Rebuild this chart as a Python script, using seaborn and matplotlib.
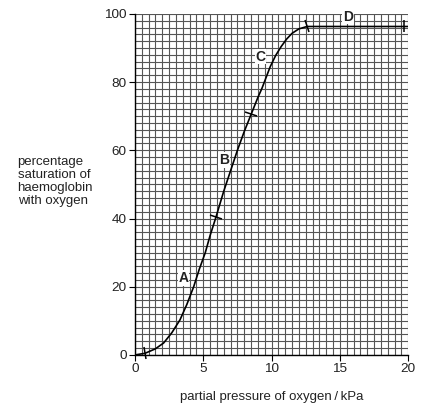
import numpy as np
import pandas as pd
import matplotlib
matplotlib.use("Agg")
import matplotlib.pyplot as plt
from matplotlib.markers import MarkerStyle
from matplotlib.transforms import Affine2D
from matplotlib.ticker import MultipleLocator
import seaborn as sns

# data
pressure = [0, 0.75, 1.5, 2.1, 2.7, 3.3, 3.8, 4.3, 4.7, 5.15, 5.5, 5.9, 6.5, 7.0,
            7.5, 8.0, 8.5, 9.0, 9.3, 9.9, 10.3, 10.7, 11.1, 11.5, 12.0, 12.6, 20]
saturation = [0, 0.5, 1.8, 3.5, 6.5, 10.3, 14.8, 20, 25, 30, 35, 40, 48, 54,
              60, 65.5, 70.5, 75.5, 78.2, 84.5, 87.8, 90.4, 92.6, 94.3, 95.6, 96.3, 96.3]
mark_x = [0.75, 5.9, 8.5, 12.6, 19.7]
mark_y = [0.5, 40.4, 70.5, 96.3, 96.3]
region_labels = ["A", "B", "C", "D"]
region_x = [3.55, 6.5, 9.2, 15.6]
region_y = [22.5, 57.2, 87.5, 99.2]
x_ticks = [0, 5, 10, 15, 20]
y_ticks = [0, 20, 40, 60, 80, 100]

sns.set_theme(style="ticks")
plt.rcParams["font.family"] = ["Liberation Sans", "DejaVu Sans"]

fig = plt.figure(figsize=(4.38, 4.08), dpi=100)
ax = fig.add_axes([0.308, 0.13, 0.624, 0.836])

df = pd.DataFrame({"p": pressure, "s": saturation})
sns.lineplot(data=df, x="p", y="s", sort=False, color="black", lw=1.2, ax=ax)

ax.set_xlim(0, 20)
ax.set_ylim(0, 100)
ax.xaxis.set_minor_locator(MultipleLocator(0.5))
ax.yaxis.set_minor_locator(MultipleLocator(2))
ax.set_xticks(x_ticks)
ax.set_yticks(y_ticks)
ax.grid(which="both", color="#555555", lw=0.8)
ax.set_axisbelow(True)
ax.tick_params(which="minor", length=0)
ax.tick_params(which="major", length=4, width=0.8, color="black",
               labelsize=9.7, labelcolor="#222222", pad=2)
for side in ["top", "right"]:
    ax.spines[side].set_visible(False)
for side in ["left", "bottom"]:
    ax.spines[side].set_color("black")
    ax.spines[side].set_linewidth(1.0)

ax.set_xlabel("partial pressure of oxygen\u2009/\u2009kPa", fontsize=9.5, color="#222222", labelpad=11)
ax.set_ylabel("")

fig.text(0.04, 0.555, "percentage\nsaturation of\nhaemoglobin\nwith oxygen",
         fontsize=9.5, color="#222222", ha="left", va="center", linespacing=1.12)

# perpendicular tick marks across the curve
fig.canvas.draw()
px = np.array(pressure)
py = np.array(saturation)
for mx, my in zip(mark_x, mark_y):
    i = np.searchsorted(px, mx)
    i0 = max(i - 1, 0)
    i1 = min(i, len(px) - 1)
    if i1 == i0:
        i1 = i0 + 1
    p0 = ax.transData.transform((px[i0], py[i0]))
    p1 = ax.transData.transform((px[i1], py[i1]))
    ang = np.degrees(np.arctan2(p1[1] - p0[1], p1[0] - p0[0]))
    m = MarkerStyle("|", transform=Affine2D().rotate_deg(ang))
    ax.plot([mx], [my], marker=m, markersize=9, mew=1.1, color="black",
            linestyle="none", clip_on=False, zorder=5)

for lab, lx, ly in zip(region_labels, region_x, region_y):
    ax.text(lx, ly, lab, fontsize=10, fontweight="bold", color="#222222",
            ha="center", va="center", zorder=4,
            bbox=dict(facecolor="white", edgecolor="none", pad=0.6))

fig.savefig("out.png", dpi=100)
